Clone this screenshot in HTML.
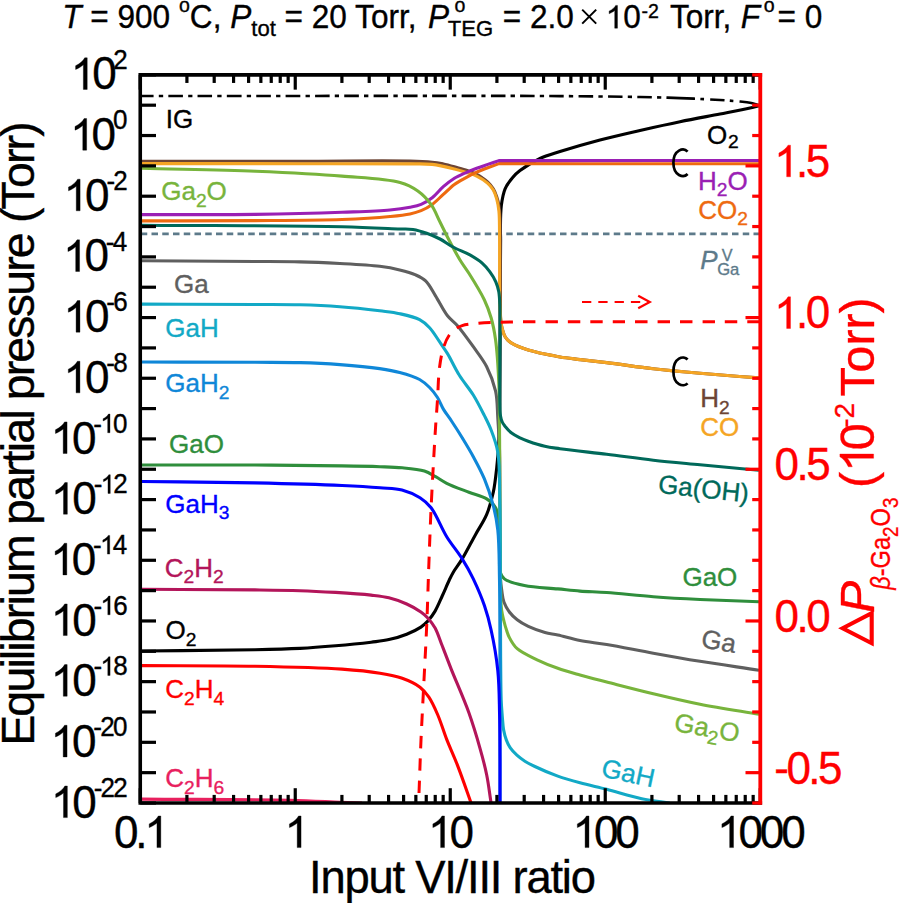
<!DOCTYPE html>
<html><head><meta charset="utf-8"><style>
html,body{margin:0;padding:0;background:#fff;}
svg{display:block;font-family:"Liberation Sans", sans-serif;}
svg text{stroke-width:0.35px;}
</style></head><body>
<svg width="900" height="903" viewBox="0 0 900 903">
<rect width="900" height="903" fill="#fff"></rect>
<defs><clipPath id="pc"><rect x="141" y="76" width="618" height="726"></rect></clipPath></defs>
<g clip-path="url(#pc)">
<path d="M142.0,96.0 C261.3,96.0 430.7,95.8 500.0,95.9 C528.4,95.9 538.6,95.9 560.0,96.1 C584.8,96.3 617.9,96.6 640.0,97.0 C655.6,97.3 666.7,97.6 680.0,98.1 C693.3,98.6 709.0,99.3 720.0,100.0 C727.8,100.5 734.5,101.0 740.0,101.5 C743.9,101.9 746.8,102.1 750.0,102.7 C753.1,103.3 756.0,104.4 759.0,105.2" fill="none" stroke="#000" stroke-width="2.6" stroke-linejoin="round" stroke-dasharray="14.6 5.2 4.3 5.2 14.6 5.2 4.3 5.2 14.6 5.2 4.3 5.2 14.6 5.2 4.3 5.2 14.6 5.2 4.3 5.2 14.6 5.2 4.3 5.2 14.6 5.2 4.3 5.2 14.6 5.2 4.3 5.2 14.6 5.2 4.3 5.2 14.6 5.2 4.3 5.2 14.6 5.2 4.3 5.2 14.6 5.2 4.3 5.2 14.6 5.2 4.3 5.2 14.6 5.2 4.3 5.2 14.6 5.2 4.3 5.2 14.6 5.2 4.3 5.2 14.6 5.2 4.3 5.2 14.6 5.2 4.3 5.2 28.6 5.3 3.6 6.2 14.2 5.4 3.5 6.3 40 5" stroke-dashoffset="2.9"></path>
<line x1="142" y1="233.8" x2="759" y2="233.8" stroke="#5d7a8a" stroke-width="2.8" stroke-dasharray="6.5 4.25" stroke-dashoffset="1.25"></line>
<path d="M142.0,651.0 C179.7,650.6 225.9,650.4 255.0,649.8 C273.4,649.4 285.9,649.1 300.0,648.4 C312.6,647.7 323.7,646.8 335.6,645.8 C347.4,644.8 361.3,643.4 371.1,642.2 C378.1,641.3 383.0,640.9 388.9,639.6 C394.9,638.3 401.2,636.4 406.7,634.2 C411.8,632.2 417.1,629.6 420.9,627.1 C423.8,625.1 425.8,623.3 428.0,620.9 C430.5,618.1 432.9,614.8 435.1,611.1 C437.7,606.7 439.9,601.1 442.2,596.0 C444.6,590.8 447.2,584.4 449.3,580.0 C450.8,576.9 451.6,575.1 453.3,572.2 C455.6,568.3 459.1,564.1 462.2,558.9 C466.4,552.0 471.3,542.1 475.6,534.4 C479.5,527.4 483.8,521.4 486.7,514.4 C489.7,507.3 491.6,499.8 493.3,492.2 C495.0,484.3 495.8,476.1 496.7,467.8 C497.7,459.1 498.4,450.9 498.9,441.0 C499.5,428.8 499.6,416.7 499.8,400.0 C500.1,374.0 500.0,329.1 500.2,300.0 C500.3,277.5 500.7,251.6 500.6,240.0 C500.6,235.3 500.4,234.1 500.4,230.0 C500.5,223.7 500.4,213.1 501.3,205.8 C502.1,199.6 503.0,193.7 505.1,188.8 C507.0,184.4 510.0,180.6 512.7,177.4 C515.0,174.7 516.8,172.9 520.0,170.5 C524.9,166.8 533.2,161.7 540.0,158.5 C546.5,155.5 552.2,154.1 560.0,151.6 C571.0,148.1 586.6,143.5 600.0,140.0 C613.3,136.5 626.7,133.5 640.0,130.4 C653.3,127.4 666.7,124.4 680.0,121.7 C693.3,119.0 707.6,116.4 720.0,114.0 C730.7,111.9 742.9,109.6 750.0,108.0 C753.9,107.1 756.0,106.5 759.0,105.8" fill="none" stroke="#000" stroke-width="3.1" stroke-linejoin="round"></path>
<path d="M142.0,799.1 C191.3,799.5 253.7,799.3 290.0,800.2 C311.1,800.7 326.7,801.7 340.0,802.2 C348.8,802.5 354.7,802.7 362.0,803.0" fill="none" stroke="#e8205e" stroke-width="3.1" stroke-linejoin="round"></path>
<path d="M142.0,665.6 C179.7,665.8 219.8,665.5 255.0,666.2 C285.9,666.8 318.9,667.5 342.0,669.1 C357.3,670.2 369.1,671.4 380.0,673.2 C388.4,674.6 395.3,675.8 402.2,678.3 C408.6,680.6 415.3,683.6 420.0,687.2 C423.8,690.1 426.2,693.2 428.9,697.2 C432.2,702.1 435.0,708.5 437.8,715.0 C441.0,722.4 443.5,731.1 446.7,739.4 C450.1,748.1 454.1,756.4 457.8,766.1 C462.2,777.4 466.7,790.7 471.1,803.0" fill="none" stroke="#ff0000" stroke-width="3.1" stroke-linejoin="round"></path>
<path d="M142.0,589.3 C179.7,589.5 225.9,589.6 255.0,589.9 C273.4,590.1 285.9,590.2 300.0,590.7 C312.6,591.1 323.7,591.7 335.6,592.4 C347.4,593.1 361.3,594.0 371.1,595.1 C378.1,595.9 383.0,596.3 388.9,597.8 C394.9,599.3 401.2,601.5 406.7,604.0 C411.8,606.3 417.1,609.3 420.9,612.0 C423.8,614.0 425.8,615.8 428.0,618.2 C430.5,621.0 432.9,624.1 435.1,628.0 C437.8,632.9 439.7,639.5 442.2,645.8 C445.0,653.0 447.6,660.0 451.1,668.9 C456.0,681.2 463.9,698.8 468.9,712.8 C473.3,725.2 476.9,737.3 480.0,748.3 C482.7,757.8 484.9,766.0 486.7,775.0 C488.6,784.2 489.6,793.7 491.1,803.0" fill="none" stroke="#b3155a" stroke-width="3.1" stroke-linejoin="round"></path>
<path d="M142.0,465.0 C179.7,465.0 219.8,464.8 255.0,465.0 C285.9,465.2 318.9,465.5 342.0,465.9 C357.3,466.1 369.0,466.3 380.0,466.7 C388.4,467.0 394.8,467.1 402.2,467.8 C409.6,468.5 418.4,469.2 424.4,471.1 C428.9,472.5 431.9,474.7 435.6,476.7 C439.3,478.7 442.3,481.1 446.7,483.3 C452.7,486.3 461.9,489.5 468.9,492.2 C475.1,494.6 482.0,495.9 486.7,498.9 C490.5,501.4 493.6,504.1 495.6,507.8 C497.9,512.0 498.2,517.4 498.9,523.3 C499.8,531.0 499.6,541.5 499.8,550.0 C500.0,557.7 498.7,567.1 500.2,572.2 C501.1,575.2 502.0,577.0 504.4,578.9 C508.3,582.0 516.8,584.0 524.4,585.6 C534.0,587.7 547.8,587.9 557.8,588.9 C566.0,589.7 572.3,590.5 580.0,591.1 C588.5,591.7 596.6,591.8 606.7,592.5 C620.1,593.5 637.7,595.5 653.3,596.7 C668.8,597.9 683.5,598.7 700.0,599.5 C718.5,600.4 739.3,601.0 759.0,601.8" fill="none" stroke="#2f8e3c" stroke-width="3.1" stroke-linejoin="round"></path>
<path d="M142.0,260.8 C179.7,261.0 225.9,261.3 255.0,261.5 C273.4,261.6 285.5,261.5 300.0,261.9 C313.7,262.2 326.6,262.8 339.9,263.5 C353.2,264.2 368.7,264.9 379.7,266.3 C387.5,267.3 393.5,268.4 399.7,269.9 C405.4,271.3 411.0,272.8 415.6,274.9 C419.4,276.6 422.6,278.0 425.6,280.9 C429.4,284.5 432.1,290.4 435.5,295.8 C439.4,301.9 443.3,310.4 447.5,315.7 C450.7,319.8 453.9,321.6 457.5,325.7 C462.3,331.3 468.3,339.7 473.3,346.7 C478.0,353.4 483.0,359.5 486.7,366.7 C490.5,374.2 493.7,382.7 495.6,391.1 C497.5,399.7 497.2,408.5 497.8,417.8 C498.5,428.0 499.1,437.2 499.5,450.0 C500.1,468.9 499.8,497.6 500.0,520.0 C500.2,540.8 499.9,568.4 500.6,580.0 C500.9,584.7 501.2,586.5 501.7,590.0 C502.3,593.9 502.6,598.4 503.9,602.1 C505.2,605.7 507.2,609.0 509.4,612.0 C511.6,614.9 514.2,617.5 517.2,619.8 C520.4,622.3 524.1,624.4 528.3,626.4 C533.2,628.7 539.7,631.0 545.0,632.5 C549.5,633.8 553.0,633.9 557.8,635.0 C564.2,636.4 572.2,639.1 580.0,640.6 C588.4,642.3 596.6,642.8 606.7,644.5 C620.1,646.7 637.7,650.4 653.3,653.2 C668.8,656.0 683.5,658.6 700.0,661.3 C718.5,664.3 739.3,667.2 759.0,670.2" fill="none" stroke="#5f5f5f" stroke-width="3.1" stroke-linejoin="round"></path>
<path d="M142.0,161.2 C194.7,161.2 252.1,161.2 300.0,161.2 C340.0,161.2 387.3,160.5 410.0,161.1 C420.2,161.3 426.1,161.6 432.2,162.2 C436.5,162.6 439.6,163.2 443.3,163.9 C447.0,164.7 450.7,165.7 454.4,166.7 C458.1,167.7 461.9,168.7 465.6,170.0 C469.3,171.3 473.7,172.9 476.7,174.4 C478.9,175.5 480.4,176.5 482.2,177.8 C484.1,179.1 486.0,180.5 487.8,182.2 C489.8,184.1 491.8,186.5 493.3,188.9 C494.8,191.3 495.8,194.0 496.7,196.7 C497.7,199.5 498.4,202.4 498.9,205.6 C499.5,209.1 499.8,212.3 500.0,216.7 C500.4,223.0 500.2,230.4 500.3,240.0 C500.4,255.4 500.3,285.8 500.4,300.0 C500.4,307.8 500.3,313.2 500.6,318.0 C500.8,321.2 501.1,323.5 501.6,326.0 C502.0,328.2 502.6,330.1 503.2,332.0 C503.7,333.7 504.2,335.2 505.0,336.6 C505.8,338.0 506.9,339.3 508.0,340.4 C509.1,341.5 510.1,342.3 511.6,343.2 C513.6,344.4 516.4,345.7 519.0,346.8 C521.9,348.0 524.7,348.9 528.2,349.9 C532.9,351.3 539.4,352.8 544.8,354.0 C550.0,355.1 554.6,356.1 560.0,357.0 C566.2,358.0 572.8,358.7 580.0,359.6 C588.3,360.6 596.6,361.4 606.7,362.6 C620.1,364.2 637.7,367.0 653.3,368.8 C668.8,370.6 683.5,371.9 700.0,373.3 C718.5,374.9 739.3,376.4 759.0,377.9" fill="none" stroke="#6d4535" stroke-width="3.1" stroke-linejoin="round"></path>
<path d="M142.0,163.6 C194.7,163.6 252.1,163.6 300.0,163.7 C340.0,163.7 387.3,163.6 410.0,163.9 C420.2,164.0 424.8,163.6 432.2,164.4 C439.6,165.2 448.3,167.4 454.4,168.9 C458.8,170.0 461.9,171.0 465.6,172.2 C469.3,173.4 473.1,174.3 476.7,176.1 C480.5,178.0 484.9,180.7 487.8,183.3 C490.2,185.4 491.8,187.5 493.3,190.0 C494.8,192.6 495.8,195.7 496.7,198.9 C497.7,202.6 498.4,206.6 498.9,211.1 C499.5,216.7 499.4,221.7 499.5,230.0 C499.8,246.0 499.4,284.3 499.8,300.0 C500.0,308.0 500.2,313.2 500.6,318.0 C500.9,321.2 501.1,323.5 501.6,326.0 C502.0,328.2 502.6,330.1 503.2,332.0 C503.7,333.7 504.2,335.2 505.0,336.6 C505.8,338.0 506.9,339.3 508.0,340.4 C509.1,341.5 510.1,342.3 511.6,343.2 C513.6,344.4 516.4,345.7 519.0,346.8 C521.9,348.0 524.7,348.9 528.2,349.9 C532.9,351.3 539.4,352.8 544.8,354.0 C550.0,355.1 554.6,356.1 560.0,357.0 C566.2,358.0 572.8,358.7 580.0,359.6 C588.3,360.6 596.6,361.4 606.7,362.6 C620.1,364.2 637.7,367.0 653.3,368.8 C668.8,370.6 683.5,371.9 700.0,373.3 C718.5,374.9 739.3,376.4 759.0,377.9" fill="none" stroke="#f5a524" stroke-width="3.1" stroke-linejoin="round"></path>
<path d="M142.0,220.9 C179.7,220.8 219.8,220.9 255.0,220.6 C285.9,220.4 317.3,220.4 342.0,219.5 C360.4,218.8 377.5,217.7 390.0,216.5 C398.1,215.7 404.3,215.1 410.0,213.9 C414.3,213.0 417.5,212.1 421.1,210.6 C424.9,209.0 428.6,207.0 432.2,204.4 C436.1,201.6 439.6,197.7 443.3,194.4 C447.0,191.1 450.5,187.2 454.4,184.4 C458.0,181.8 461.8,179.9 465.6,177.8 C469.3,175.8 473.0,173.9 476.7,172.2 C480.4,170.6 484.1,169.2 487.8,167.8 C491.5,166.4 495.2,165.0 498.9,163.6 L498.9,163.6 C585.6,163.7 672.3,163.7 759.0,163.8" fill="none" stroke="#ee6a10" stroke-width="3.1" stroke-linejoin="round"></path>
<path d="M142.0,214.6 C179.7,214.5 219.8,214.9 255.0,214.4 C285.9,214.0 317.3,213.2 342.0,212.3 C360.4,211.6 377.5,211.2 390.0,210.0 C398.1,209.2 404.3,208.3 410.0,207.2 C414.3,206.4 417.5,205.9 421.1,204.4 C424.9,202.8 428.7,200.5 432.2,197.8 C436.1,194.8 439.5,190.0 443.3,186.7 C446.9,183.6 450.6,180.7 454.4,178.3 C458.0,176.1 461.8,174.5 465.6,172.8 C469.3,171.2 473.0,169.7 476.7,168.3 C480.4,166.9 484.1,165.7 487.8,164.4 C491.5,163.1 495.2,161.9 498.9,160.6 L498.9,160.6 C585.6,160.6 672.3,160.5 759.0,160.5" fill="none" stroke="#9a1fb4" stroke-width="3.1" stroke-linejoin="round"></path>
<path d="M142.0,168.3 C179.9,169.3 220.3,169.8 255.6,171.2 C286.4,172.5 316.1,173.9 342.0,176.1 C363.3,177.9 386.4,178.6 400.0,182.5 C407.9,184.7 412.6,187.3 417.8,191.0 C422.9,194.6 427.3,199.3 431.0,204.4 C434.8,209.6 437.0,216.1 440.0,222.0 C443.0,228.0 445.8,233.9 449.0,240.0 C452.4,246.5 456.4,254.1 460.0,260.0 C463.0,265.0 465.6,268.0 468.9,273.3 C473.5,280.6 480.5,291.9 484.4,300.0 C487.4,306.4 489.3,311.5 491.1,317.8 C493.1,324.7 494.4,331.3 495.6,340.0 C497.3,352.2 498.2,368.8 498.9,384.4 C499.7,401.9 499.4,417.9 499.6,440.0 C499.9,472.4 499.8,529.4 500.2,560.0 C500.5,578.9 500.5,597.0 501.2,606.0 C501.5,609.8 501.8,611.4 502.3,614.0 C502.7,616.4 503.3,618.5 503.9,621.0 C504.6,623.8 505.5,627.1 506.5,630.0 C507.4,632.7 508.0,634.9 509.4,637.6 C511.2,641.1 513.5,645.4 517.2,648.7 C522.0,653.0 530.3,656.5 537.1,659.8 C543.8,663.0 550.7,665.8 557.8,668.3 C565.0,670.9 572.2,672.8 580.0,675.0 C588.5,677.4 596.6,679.4 606.7,682.0 C620.1,685.4 637.7,690.0 653.3,693.7 C668.8,697.4 683.5,700.9 700.0,704.2 C718.5,707.8 739.3,710.9 759.0,714.2" fill="none" stroke="#78b43c" stroke-width="3.1" stroke-linejoin="round"></path>
<path d="M142.0,225.2 C208.7,225.7 295.3,225.6 342.0,226.7 C367.1,227.3 387.6,228.5 400.0,229.0 C405.9,229.2 408.6,228.8 413.0,229.5 C417.5,230.2 422.2,231.7 426.7,233.3 C431.2,234.9 435.7,236.8 440.0,239.0 C444.4,241.3 448.3,244.5 453.0,247.0 C458.2,249.8 464.8,252.1 469.9,254.9 C474.3,257.4 478.5,259.9 481.9,262.9 C485.0,265.6 487.6,268.7 489.9,271.9 C492.2,275.0 494.3,278.4 495.8,281.8 C497.2,285.0 498.1,288.2 498.8,291.8 C499.5,295.8 499.6,299.0 499.8,304.8 C500.3,316.8 499.9,342.5 499.9,360.0 C499.9,375.8 499.6,395.1 499.9,405.0 C500.0,409.9 500.0,413.0 500.5,416.0 C500.9,418.2 501.2,419.8 502.0,421.5 C502.7,423.2 503.7,424.6 505.0,426.3 C506.7,428.4 509.1,431.1 511.6,433.0 C514.1,434.9 517.2,436.4 520.0,437.8 C522.7,439.1 525.0,440.1 528.2,441.3 C532.7,442.9 539.3,445.1 544.8,446.3 C549.9,447.5 553.5,447.8 560.0,448.7 C571.3,450.3 591.1,452.4 606.7,454.3 C622.2,456.2 637.7,458.4 653.3,460.2 C668.8,461.9 683.5,463.2 700.0,464.8 C718.5,466.6 739.3,468.4 759.0,470.2" fill="none" stroke="#00695a" stroke-width="3.1" stroke-linejoin="round"></path>
<path d="M142.0,304.1 C179.7,304.2 225.9,304.4 255.0,304.5 C273.4,304.6 285.5,304.4 300.0,304.8 C313.7,305.2 326.6,305.8 339.9,306.8 C353.2,307.8 368.7,309.5 379.7,310.8 C387.5,311.8 393.1,312.2 399.7,313.7 C406.4,315.2 414.3,316.9 419.6,319.7 C423.8,321.9 426.5,324.4 429.6,327.7 C433.2,331.5 436.4,337.2 439.5,341.7 C442.3,345.8 444.7,349.0 447.5,353.6 C451.2,359.7 455.1,368.5 459.5,375.5 C463.8,382.3 469.1,388.3 473.3,395.0 C477.4,401.7 481.2,409.3 484.4,415.6 C487.0,420.8 489.0,424.6 491.1,430.0 C493.6,436.5 496.3,443.3 497.8,452.2 C500.0,465.0 499.3,481.2 499.8,500.0 C500.5,527.2 500.2,566.7 500.4,600.0 C500.6,633.3 500.5,680.7 501.2,700.0 C501.5,707.9 501.9,711.4 502.3,716.6 C502.7,721.3 502.9,725.8 503.6,729.9 C504.3,733.5 505.1,736.8 506.3,739.9 C507.4,742.8 508.6,745.4 510.3,747.9 C512.1,750.5 514.5,753.0 516.9,755.2 C519.3,757.4 522.0,759.4 524.9,761.2 C528.0,763.2 530.8,764.6 534.9,766.5 C540.9,769.4 550.2,773.4 557.8,776.1 C565.2,778.8 572.2,780.7 580.0,782.8 C588.5,785.1 597.2,786.9 606.7,789.3 C617.6,792.1 630.6,796.4 641.7,798.7 C651.5,800.8 660.4,801.6 669.7,803.0" fill="none" stroke="#12a9c6" stroke-width="3.1" stroke-linejoin="round"></path>
<path d="M142.0,362.0 C179.7,362.1 225.9,362.2 255.0,362.3 C273.4,362.4 285.5,362.2 300.0,362.6 C313.7,363.0 326.6,363.6 339.9,364.6 C353.2,365.6 368.7,367.0 379.7,368.6 C387.5,369.8 393.1,370.7 399.7,372.5 C406.4,374.3 414.3,376.6 419.6,379.5 C423.7,381.8 426.6,384.5 429.6,387.5 C432.6,390.5 435.2,393.9 437.5,397.5 C439.9,401.2 441.2,405.5 443.5,409.4 C445.9,413.4 448.7,416.7 451.5,421.0 C454.9,426.1 458.7,432.0 462.2,437.8 C465.9,443.9 469.7,450.1 473.3,456.7 C477.1,463.7 481.1,471.0 484.4,478.9 C487.9,487.3 491.0,496.8 493.3,505.6 C495.4,513.8 496.8,520.4 497.8,530.0 C499.3,543.7 499.1,559.7 499.5,580.0 C500.1,611.4 499.9,661.5 500.0,700.0 C500.1,735.6 500.0,768.7 500.0,803.0" fill="none" stroke="#0f87d8" stroke-width="3.1" stroke-linejoin="round"></path>
<path d="M142.0,481.5 C179.7,482.0 219.8,482.2 255.0,482.9 C285.9,483.6 318.9,484.5 342.0,485.5 C357.3,486.2 369.1,486.9 380.0,487.8 C388.3,488.5 395.2,488.2 402.0,490.0 C408.4,491.7 414.9,494.5 420.0,497.8 C424.4,500.6 427.5,503.2 431.1,507.8 C436.5,514.6 441.2,527.8 446.7,536.7 C451.7,544.7 457.6,551.6 462.2,558.9 C466.4,565.6 469.8,571.6 473.3,578.9 C477.2,587.1 481.4,596.8 484.4,605.6 C487.2,613.8 489.1,620.8 491.1,630.0 C493.7,641.8 496.4,656.7 497.8,670.6 C499.3,685.0 499.2,700.1 499.6,715.0 C500.0,729.9 499.9,745.2 500.0,760.0 C500.1,774.5 500.0,788.7 500.0,803.0" fill="none" stroke="#0000ff" stroke-width="3.1" stroke-linejoin="round"></path>
<path d="M419.0,793.0 C419.7,775.3 420.2,758.2 421.0,740.0 C421.9,720.6 423.0,699.5 424.0,680.0 C424.9,661.4 425.9,644.4 426.7,625.6 C427.6,605.5 428.1,583.5 428.9,563.3 C429.6,544.3 430.2,527.6 431.1,507.8 C432.2,485.0 433.9,454.4 435.1,434.4 C435.9,420.6 436.8,410.9 437.5,399.5 C438.2,388.6 438.3,377.0 439.5,367.6 C440.5,360.1 441.6,353.3 443.5,347.6 C445.0,343.0 446.7,338.8 449.0,335.5 C450.9,332.8 453.3,330.6 455.6,328.9 C457.7,327.4 459.4,326.5 462.2,325.6 C466.2,324.3 472.1,323.9 477.8,323.3 C484.5,322.6 488.5,322.5 500.0,322.2 C539.1,321.2 672.7,321.9 759.0,321.8" fill="none" stroke="#ff0000" stroke-width="3.0" stroke-linejoin="round" stroke-dasharray="12.4 10"></path>
</g>
<line x1="582" y1="302" x2="648" y2="302" stroke="#ff0000" stroke-width="2.2" stroke-dasharray="9.3 7"></line>
<path d="M638.2,295.7 L649.8,302 L638.2,308.3" fill="none" stroke="#ff0000" stroke-width="2.2"></path>
<line x1="140.25" y1="803.00" x2="156" y2="803.00" stroke="#000" stroke-width="3.2"></line>
<line x1="140.25" y1="772.66" x2="156" y2="772.66" stroke="#000" stroke-width="3.2"></line>
<line x1="140.25" y1="742.32" x2="156" y2="742.32" stroke="#000" stroke-width="3.2"></line>
<line x1="140.25" y1="711.98" x2="156" y2="711.98" stroke="#000" stroke-width="3.2"></line>
<line x1="140.25" y1="681.64" x2="156" y2="681.64" stroke="#000" stroke-width="3.2"></line>
<line x1="140.25" y1="651.30" x2="156" y2="651.30" stroke="#000" stroke-width="3.2"></line>
<line x1="140.25" y1="620.96" x2="156" y2="620.96" stroke="#000" stroke-width="3.2"></line>
<line x1="140.25" y1="590.62" x2="156" y2="590.62" stroke="#000" stroke-width="3.2"></line>
<line x1="140.25" y1="560.28" x2="156" y2="560.28" stroke="#000" stroke-width="3.2"></line>
<line x1="140.25" y1="529.94" x2="156" y2="529.94" stroke="#000" stroke-width="3.2"></line>
<line x1="140.25" y1="499.60" x2="156" y2="499.60" stroke="#000" stroke-width="3.2"></line>
<line x1="140.25" y1="469.26" x2="156" y2="469.26" stroke="#000" stroke-width="3.2"></line>
<line x1="140.25" y1="438.92" x2="156" y2="438.92" stroke="#000" stroke-width="3.2"></line>
<line x1="140.25" y1="408.59" x2="156" y2="408.59" stroke="#000" stroke-width="3.2"></line>
<line x1="140.25" y1="378.25" x2="156" y2="378.25" stroke="#000" stroke-width="3.2"></line>
<line x1="140.25" y1="347.91" x2="156" y2="347.91" stroke="#000" stroke-width="3.2"></line>
<line x1="140.25" y1="317.57" x2="156" y2="317.57" stroke="#000" stroke-width="3.2"></line>
<line x1="140.25" y1="287.23" x2="156" y2="287.23" stroke="#000" stroke-width="3.2"></line>
<line x1="140.25" y1="256.89" x2="156" y2="256.89" stroke="#000" stroke-width="3.2"></line>
<line x1="140.25" y1="226.55" x2="156" y2="226.55" stroke="#000" stroke-width="3.2"></line>
<line x1="140.25" y1="196.21" x2="156" y2="196.21" stroke="#000" stroke-width="3.2"></line>
<line x1="140.25" y1="165.87" x2="156" y2="165.87" stroke="#000" stroke-width="3.2"></line>
<line x1="140.25" y1="135.53" x2="156" y2="135.53" stroke="#000" stroke-width="3.2"></line>
<line x1="140.25" y1="105.19" x2="156" y2="105.19" stroke="#000" stroke-width="3.2"></line>
<line x1="140.25" y1="74.85" x2="156" y2="74.85" stroke="#000" stroke-width="3.2"></line>
<line x1="140.25" y1="74.85" x2="140.25" y2="89.65" stroke="#000" stroke-width="3.2"></line>
<line x1="140.25" y1="803.0" x2="140.25" y2="788.20" stroke="#000" stroke-width="3.2"></line>
<line x1="186.91" y1="74.85" x2="186.91" y2="82.95" stroke="#000" stroke-width="3.2"></line>
<line x1="186.91" y1="803.0" x2="186.91" y2="794.90" stroke="#000" stroke-width="3.2"></line>
<line x1="214.20" y1="74.85" x2="214.20" y2="82.95" stroke="#000" stroke-width="3.2"></line>
<line x1="214.20" y1="803.0" x2="214.20" y2="794.90" stroke="#000" stroke-width="3.2"></line>
<line x1="233.57" y1="74.85" x2="233.57" y2="82.95" stroke="#000" stroke-width="3.2"></line>
<line x1="233.57" y1="803.0" x2="233.57" y2="794.90" stroke="#000" stroke-width="3.2"></line>
<line x1="248.59" y1="74.85" x2="248.59" y2="82.95" stroke="#000" stroke-width="3.2"></line>
<line x1="248.59" y1="803.0" x2="248.59" y2="794.90" stroke="#000" stroke-width="3.2"></line>
<line x1="260.86" y1="74.85" x2="260.86" y2="82.95" stroke="#000" stroke-width="3.2"></line>
<line x1="260.86" y1="803.0" x2="260.86" y2="794.90" stroke="#000" stroke-width="3.2"></line>
<line x1="271.24" y1="74.85" x2="271.24" y2="82.95" stroke="#000" stroke-width="3.2"></line>
<line x1="271.24" y1="803.0" x2="271.24" y2="794.90" stroke="#000" stroke-width="3.2"></line>
<line x1="280.23" y1="74.85" x2="280.23" y2="82.95" stroke="#000" stroke-width="3.2"></line>
<line x1="280.23" y1="803.0" x2="280.23" y2="794.90" stroke="#000" stroke-width="3.2"></line>
<line x1="288.16" y1="74.85" x2="288.16" y2="82.95" stroke="#000" stroke-width="3.2"></line>
<line x1="288.16" y1="803.0" x2="288.16" y2="794.90" stroke="#000" stroke-width="3.2"></line>
<line x1="295.25" y1="74.85" x2="295.25" y2="89.65" stroke="#000" stroke-width="3.2"></line>
<line x1="295.25" y1="803.0" x2="295.25" y2="788.20" stroke="#000" stroke-width="3.2"></line>
<line x1="341.91" y1="74.85" x2="341.91" y2="82.95" stroke="#000" stroke-width="3.2"></line>
<line x1="341.91" y1="803.0" x2="341.91" y2="794.90" stroke="#000" stroke-width="3.2"></line>
<line x1="369.20" y1="74.85" x2="369.20" y2="82.95" stroke="#000" stroke-width="3.2"></line>
<line x1="369.20" y1="803.0" x2="369.20" y2="794.90" stroke="#000" stroke-width="3.2"></line>
<line x1="388.57" y1="74.85" x2="388.57" y2="82.95" stroke="#000" stroke-width="3.2"></line>
<line x1="388.57" y1="803.0" x2="388.57" y2="794.90" stroke="#000" stroke-width="3.2"></line>
<line x1="403.59" y1="74.85" x2="403.59" y2="82.95" stroke="#000" stroke-width="3.2"></line>
<line x1="403.59" y1="803.0" x2="403.59" y2="794.90" stroke="#000" stroke-width="3.2"></line>
<line x1="415.86" y1="74.85" x2="415.86" y2="82.95" stroke="#000" stroke-width="3.2"></line>
<line x1="415.86" y1="803.0" x2="415.86" y2="794.90" stroke="#000" stroke-width="3.2"></line>
<line x1="426.24" y1="74.85" x2="426.24" y2="82.95" stroke="#000" stroke-width="3.2"></line>
<line x1="426.24" y1="803.0" x2="426.24" y2="794.90" stroke="#000" stroke-width="3.2"></line>
<line x1="435.23" y1="74.85" x2="435.23" y2="82.95" stroke="#000" stroke-width="3.2"></line>
<line x1="435.23" y1="803.0" x2="435.23" y2="794.90" stroke="#000" stroke-width="3.2"></line>
<line x1="443.16" y1="74.85" x2="443.16" y2="82.95" stroke="#000" stroke-width="3.2"></line>
<line x1="443.16" y1="803.0" x2="443.16" y2="794.90" stroke="#000" stroke-width="3.2"></line>
<line x1="450.25" y1="74.85" x2="450.25" y2="89.65" stroke="#000" stroke-width="3.2"></line>
<line x1="450.25" y1="803.0" x2="450.25" y2="788.20" stroke="#000" stroke-width="3.2"></line>
<line x1="496.91" y1="74.85" x2="496.91" y2="82.95" stroke="#000" stroke-width="3.2"></line>
<line x1="496.91" y1="803.0" x2="496.91" y2="794.90" stroke="#000" stroke-width="3.2"></line>
<line x1="524.20" y1="74.85" x2="524.20" y2="82.95" stroke="#000" stroke-width="3.2"></line>
<line x1="524.20" y1="803.0" x2="524.20" y2="794.90" stroke="#000" stroke-width="3.2"></line>
<line x1="543.57" y1="74.85" x2="543.57" y2="82.95" stroke="#000" stroke-width="3.2"></line>
<line x1="543.57" y1="803.0" x2="543.57" y2="794.90" stroke="#000" stroke-width="3.2"></line>
<line x1="558.59" y1="74.85" x2="558.59" y2="82.95" stroke="#000" stroke-width="3.2"></line>
<line x1="558.59" y1="803.0" x2="558.59" y2="794.90" stroke="#000" stroke-width="3.2"></line>
<line x1="570.86" y1="74.85" x2="570.86" y2="82.95" stroke="#000" stroke-width="3.2"></line>
<line x1="570.86" y1="803.0" x2="570.86" y2="794.90" stroke="#000" stroke-width="3.2"></line>
<line x1="581.24" y1="74.85" x2="581.24" y2="82.95" stroke="#000" stroke-width="3.2"></line>
<line x1="581.24" y1="803.0" x2="581.24" y2="794.90" stroke="#000" stroke-width="3.2"></line>
<line x1="590.23" y1="74.85" x2="590.23" y2="82.95" stroke="#000" stroke-width="3.2"></line>
<line x1="590.23" y1="803.0" x2="590.23" y2="794.90" stroke="#000" stroke-width="3.2"></line>
<line x1="598.16" y1="74.85" x2="598.16" y2="82.95" stroke="#000" stroke-width="3.2"></line>
<line x1="598.16" y1="803.0" x2="598.16" y2="794.90" stroke="#000" stroke-width="3.2"></line>
<line x1="605.25" y1="74.85" x2="605.25" y2="89.65" stroke="#000" stroke-width="3.2"></line>
<line x1="605.25" y1="803.0" x2="605.25" y2="788.20" stroke="#000" stroke-width="3.2"></line>
<line x1="651.91" y1="74.85" x2="651.91" y2="82.95" stroke="#000" stroke-width="3.2"></line>
<line x1="651.91" y1="803.0" x2="651.91" y2="794.90" stroke="#000" stroke-width="3.2"></line>
<line x1="679.20" y1="74.85" x2="679.20" y2="82.95" stroke="#000" stroke-width="3.2"></line>
<line x1="679.20" y1="803.0" x2="679.20" y2="794.90" stroke="#000" stroke-width="3.2"></line>
<line x1="698.57" y1="74.85" x2="698.57" y2="82.95" stroke="#000" stroke-width="3.2"></line>
<line x1="698.57" y1="803.0" x2="698.57" y2="794.90" stroke="#000" stroke-width="3.2"></line>
<line x1="713.59" y1="74.85" x2="713.59" y2="82.95" stroke="#000" stroke-width="3.2"></line>
<line x1="713.59" y1="803.0" x2="713.59" y2="794.90" stroke="#000" stroke-width="3.2"></line>
<line x1="725.86" y1="74.85" x2="725.86" y2="82.95" stroke="#000" stroke-width="3.2"></line>
<line x1="725.86" y1="803.0" x2="725.86" y2="794.90" stroke="#000" stroke-width="3.2"></line>
<line x1="736.24" y1="74.85" x2="736.24" y2="82.95" stroke="#000" stroke-width="3.2"></line>
<line x1="736.24" y1="803.0" x2="736.24" y2="794.90" stroke="#000" stroke-width="3.2"></line>
<line x1="745.23" y1="74.85" x2="745.23" y2="82.95" stroke="#000" stroke-width="3.2"></line>
<line x1="745.23" y1="803.0" x2="745.23" y2="794.90" stroke="#000" stroke-width="3.2"></line>
<line x1="753.16" y1="74.85" x2="753.16" y2="82.95" stroke="#000" stroke-width="3.2"></line>
<line x1="753.16" y1="803.0" x2="753.16" y2="794.90" stroke="#000" stroke-width="3.2"></line>
<line x1="760.25" y1="74.85" x2="760.25" y2="89.65" stroke="#000" stroke-width="3.2"></line>
<line x1="760.25" y1="803.0" x2="760.25" y2="788.20" stroke="#000" stroke-width="3.2"></line>
<path d="M760.3,74.85 L140.25,74.85 L140.25,803.0 L760.3,803.0" fill="none" stroke="#000" stroke-width="3.6" stroke-linecap="square"></path>
<line x1="760.3" y1="73.05" x2="760.3" y2="804.8" stroke="#ff0000" stroke-width="3.8"></line>
<line x1="760.3" y1="803.00" x2="752.20" y2="803.00" stroke="#ff0000" stroke-width="3.2"></line>
<line x1="760.3" y1="772.66" x2="745.50" y2="772.66" stroke="#ff0000" stroke-width="3.2"></line>
<line x1="760.3" y1="742.32" x2="752.20" y2="742.32" stroke="#ff0000" stroke-width="3.2"></line>
<line x1="760.3" y1="711.98" x2="752.20" y2="711.98" stroke="#ff0000" stroke-width="3.2"></line>
<line x1="760.3" y1="681.64" x2="752.20" y2="681.64" stroke="#ff0000" stroke-width="3.2"></line>
<line x1="760.3" y1="651.30" x2="752.20" y2="651.30" stroke="#ff0000" stroke-width="3.2"></line>
<line x1="760.3" y1="620.96" x2="745.50" y2="620.96" stroke="#ff0000" stroke-width="3.2"></line>
<line x1="760.3" y1="590.62" x2="752.20" y2="590.62" stroke="#ff0000" stroke-width="3.2"></line>
<line x1="760.3" y1="560.28" x2="752.20" y2="560.28" stroke="#ff0000" stroke-width="3.2"></line>
<line x1="760.3" y1="529.94" x2="752.20" y2="529.94" stroke="#ff0000" stroke-width="3.2"></line>
<line x1="760.3" y1="499.60" x2="752.20" y2="499.60" stroke="#ff0000" stroke-width="3.2"></line>
<line x1="760.3" y1="469.26" x2="745.50" y2="469.26" stroke="#ff0000" stroke-width="3.2"></line>
<line x1="760.3" y1="438.92" x2="752.20" y2="438.92" stroke="#ff0000" stroke-width="3.2"></line>
<line x1="760.3" y1="408.59" x2="752.20" y2="408.59" stroke="#ff0000" stroke-width="3.2"></line>
<line x1="760.3" y1="378.25" x2="752.20" y2="378.25" stroke="#ff0000" stroke-width="3.2"></line>
<line x1="760.3" y1="347.91" x2="752.20" y2="347.91" stroke="#ff0000" stroke-width="3.2"></line>
<line x1="760.3" y1="317.57" x2="745.50" y2="317.57" stroke="#ff0000" stroke-width="3.2"></line>
<line x1="760.3" y1="287.23" x2="752.20" y2="287.23" stroke="#ff0000" stroke-width="3.2"></line>
<line x1="760.3" y1="256.89" x2="752.20" y2="256.89" stroke="#ff0000" stroke-width="3.2"></line>
<line x1="760.3" y1="226.55" x2="752.20" y2="226.55" stroke="#ff0000" stroke-width="3.2"></line>
<line x1="760.3" y1="196.21" x2="752.20" y2="196.21" stroke="#ff0000" stroke-width="3.2"></line>
<line x1="760.3" y1="165.87" x2="745.50" y2="165.87" stroke="#ff0000" stroke-width="3.2"></line>
<line x1="760.3" y1="135.53" x2="752.20" y2="135.53" stroke="#ff0000" stroke-width="3.2"></line>
<line x1="760.3" y1="105.19" x2="752.20" y2="105.19" stroke="#ff0000" stroke-width="3.2"></line>
<line x1="760.3" y1="74.85" x2="752.20" y2="74.85" stroke="#ff0000" stroke-width="3.2"></line>
<g transform="translate(113.35,68.65) scale(1,1.03)"><text font-size="26.0" letter-spacing="-1.7" fill="#000" stroke="#000">2</text></g>
<g transform="translate(70.83,89.45) scale(1,1.03)"><text font-size="44.0" letter-spacing="-3.1" fill="#000" stroke="#000"> 0</text><path d="M763,0 L583,0 L583,1147 Q518,1085 412,1023 Q306,961 222,930 L222,1104 Q373,1175 486,1276 Q599,1377 646,1472 L763,1472 Z" fill="rgb(0, 0, 0)" stroke="rgb(0, 0, 0)" stroke-width="0.35" vector-effect="non-scaling-stroke" transform="translate(0.00,0.00) scale(0.02148,-0.02086)"></path></g>
<g transform="translate(113.06,129.33) scale(1,1.03)"><text font-size="26.0" letter-spacing="-1.7" fill="#000" stroke="#000">0</text></g>
<g transform="translate(70.25,150.13) scale(1,1.03)"><text font-size="44.0" letter-spacing="-3.1" fill="#000" stroke="#000"> 0</text><path d="M763,0 L583,0 L583,1147 Q518,1085 412,1023 Q306,961 222,930 L222,1104 Q373,1175 486,1276 Q599,1377 646,1472 L763,1472 Z" fill="rgb(0, 0, 0)" stroke="rgb(0, 0, 0)" stroke-width="0.35" vector-effect="non-scaling-stroke" transform="translate(0.00,0.00) scale(0.02148,-0.02086)"></path></g>
<g transform="translate(106.39,190.01) scale(1,1.03)"><text font-size="26.0" letter-spacing="-1.7" fill="#000" stroke="#000">-2</text></g>
<g transform="translate(63.72,210.81) scale(1,1.03)"><text font-size="44.0" letter-spacing="-3.1" fill="#000" stroke="#000"> 0</text><path d="M763,0 L583,0 L583,1147 Q518,1085 412,1023 Q306,961 222,930 L222,1104 Q373,1175 486,1276 Q599,1377 646,1472 L763,1472 Z" fill="rgb(0, 0, 0)" stroke="rgb(0, 0, 0)" stroke-width="0.35" vector-effect="non-scaling-stroke" transform="translate(0.00,0.00) scale(0.02148,-0.02086)"></path></g>
<g transform="translate(105.84,250.69) scale(1,1.03)"><text font-size="26.0" letter-spacing="-1.7" fill="#000" stroke="#000">-4</text></g>
<g transform="translate(63.18,271.49) scale(1,1.03)"><text font-size="44.0" letter-spacing="-3.1" fill="#000" stroke="#000"> 0</text><path d="M763,0 L583,0 L583,1147 Q518,1085 412,1023 Q306,961 222,930 L222,1104 Q373,1175 486,1276 Q599,1377 646,1472 L763,1472 Z" fill="rgb(0, 0, 0)" stroke="rgb(0, 0, 0)" stroke-width="0.35" vector-effect="non-scaling-stroke" transform="translate(0.00,0.00) scale(0.02148,-0.02086)"></path></g>
<g transform="translate(106.22,311.37) scale(1,1.03)"><text font-size="26.0" letter-spacing="-1.7" fill="#000" stroke="#000">-6</text></g>
<g transform="translate(63.56,332.17) scale(1,1.03)"><text font-size="44.0" letter-spacing="-3.1" fill="#000" stroke="#000"> 0</text><path d="M763,0 L583,0 L583,1147 Q518,1085 412,1023 Q306,961 222,930 L222,1104 Q373,1175 486,1276 Q599,1377 646,1472 L763,1472 Z" fill="rgb(0, 0, 0)" stroke="rgb(0, 0, 0)" stroke-width="0.35" vector-effect="non-scaling-stroke" transform="translate(0.00,0.00) scale(0.02148,-0.02086)"></path></g>
<g transform="translate(106.21,372.05) scale(1,1.03)"><text font-size="26.0" letter-spacing="-1.7" fill="#000" stroke="#000">-8</text></g>
<g transform="translate(63.54,392.85) scale(1,1.03)"><text font-size="44.0" letter-spacing="-3.1" fill="#000" stroke="#000"> 0</text><path d="M763,0 L583,0 L583,1147 Q518,1085 412,1023 Q306,961 222,930 L222,1104 Q373,1175 486,1276 Q599,1377 646,1472 L763,1472 Z" fill="rgb(0, 0, 0)" stroke="rgb(0, 0, 0)" stroke-width="0.35" vector-effect="non-scaling-stroke" transform="translate(0.00,0.00) scale(0.02148,-0.02086)"></path></g>
<g transform="translate(93.34,432.72) scale(1,1.03)"><text font-size="26.0" letter-spacing="-1.7" fill="#000" stroke="#000">- 0</text><path d="M763,0 L583,0 L583,1147 Q518,1085 412,1023 Q306,961 222,930 L222,1104 Q373,1175 486,1276 Q599,1377 646,1472 L763,1472 Z" fill="rgb(0, 0, 0)" stroke="rgb(0, 0, 0)" stroke-width="0.35" vector-effect="non-scaling-stroke" transform="translate(6.94,0.00) scale(0.01270,-0.01233)"></path></g>
<g transform="translate(50.67,453.52) scale(1,1.03)"><text font-size="44.0" letter-spacing="-3.1" fill="#000" stroke="#000"> 0</text><path d="M763,0 L583,0 L583,1147 Q518,1085 412,1023 Q306,961 222,930 L222,1104 Q373,1175 486,1276 Q599,1377 646,1472 L763,1472 Z" fill="rgb(0, 0, 0)" stroke="rgb(0, 0, 0)" stroke-width="0.35" vector-effect="non-scaling-stroke" transform="translate(0.00,0.00) scale(0.02148,-0.02086)"></path></g>
<g transform="translate(93.63,493.40) scale(1,1.03)"><text font-size="26.0" letter-spacing="-1.7" fill="#000" stroke="#000">- 2</text><path d="M763,0 L583,0 L583,1147 Q518,1085 412,1023 Q306,961 222,930 L222,1104 Q373,1175 486,1276 Q599,1377 646,1472 L763,1472 Z" fill="rgb(0, 0, 0)" stroke="rgb(0, 0, 0)" stroke-width="0.35" vector-effect="non-scaling-stroke" transform="translate(6.94,0.00) scale(0.01270,-0.01233)"></path></g>
<g transform="translate(50.96,514.20) scale(1,1.03)"><text font-size="44.0" letter-spacing="-3.1" fill="#000" stroke="#000"> 0</text><path d="M763,0 L583,0 L583,1147 Q518,1085 412,1023 Q306,961 222,930 L222,1104 Q373,1175 486,1276 Q599,1377 646,1472 L763,1472 Z" fill="rgb(0, 0, 0)" stroke="rgb(0, 0, 0)" stroke-width="0.35" vector-effect="non-scaling-stroke" transform="translate(0.00,0.00) scale(0.02148,-0.02086)"></path></g>
<g transform="translate(93.08,554.08) scale(1,1.03)"><text font-size="26.0" letter-spacing="-1.7" fill="#000" stroke="#000">- 4</text><path d="M763,0 L583,0 L583,1147 Q518,1085 412,1023 Q306,961 222,930 L222,1104 Q373,1175 486,1276 Q599,1377 646,1472 L763,1472 Z" fill="rgb(0, 0, 0)" stroke="rgb(0, 0, 0)" stroke-width="0.35" vector-effect="non-scaling-stroke" transform="translate(6.94,0.00) scale(0.01270,-0.01233)"></path></g>
<g transform="translate(50.42,574.88) scale(1,1.03)"><text font-size="44.0" letter-spacing="-3.1" fill="#000" stroke="#000"> 0</text><path d="M763,0 L583,0 L583,1147 Q518,1085 412,1023 Q306,961 222,930 L222,1104 Q373,1175 486,1276 Q599,1377 646,1472 L763,1472 Z" fill="rgb(0, 0, 0)" stroke="rgb(0, 0, 0)" stroke-width="0.35" vector-effect="non-scaling-stroke" transform="translate(0.00,0.00) scale(0.02148,-0.02086)"></path></g>
<g transform="translate(93.46,614.76) scale(1,1.03)"><text font-size="26.0" letter-spacing="-1.7" fill="#000" stroke="#000">- 6</text><path d="M763,0 L583,0 L583,1147 Q518,1085 412,1023 Q306,961 222,930 L222,1104 Q373,1175 486,1276 Q599,1377 646,1472 L763,1472 Z" fill="rgb(0, 0, 0)" stroke="rgb(0, 0, 0)" stroke-width="0.35" vector-effect="non-scaling-stroke" transform="translate(6.94,0.00) scale(0.01270,-0.01233)"></path></g>
<g transform="translate(50.80,635.56) scale(1,1.03)"><text font-size="44.0" letter-spacing="-3.1" fill="#000" stroke="#000"> 0</text><path d="M763,0 L583,0 L583,1147 Q518,1085 412,1023 Q306,961 222,930 L222,1104 Q373,1175 486,1276 Q599,1377 646,1472 L763,1472 Z" fill="rgb(0, 0, 0)" stroke="rgb(0, 0, 0)" stroke-width="0.35" vector-effect="non-scaling-stroke" transform="translate(0.00,0.00) scale(0.02148,-0.02086)"></path></g>
<g transform="translate(93.45,675.44) scale(1,1.03)"><text font-size="26.0" letter-spacing="-1.7" fill="#000" stroke="#000">- 8</text><path d="M763,0 L583,0 L583,1147 Q518,1085 412,1023 Q306,961 222,930 L222,1104 Q373,1175 486,1276 Q599,1377 646,1472 L763,1472 Z" fill="rgb(0, 0, 0)" stroke="rgb(0, 0, 0)" stroke-width="0.35" vector-effect="non-scaling-stroke" transform="translate(6.94,0.00) scale(0.01270,-0.01233)"></path></g>
<g transform="translate(50.78,696.24) scale(1,1.03)"><text font-size="44.0" letter-spacing="-3.1" fill="#000" stroke="#000"> 0</text><path d="M763,0 L583,0 L583,1147 Q518,1085 412,1023 Q306,961 222,930 L222,1104 Q373,1175 486,1276 Q599,1377 646,1472 L763,1472 Z" fill="rgb(0, 0, 0)" stroke="rgb(0, 0, 0)" stroke-width="0.35" vector-effect="non-scaling-stroke" transform="translate(0.00,0.00) scale(0.02148,-0.02086)"></path></g>
<g transform="translate(93.34,736.12) scale(1,1.03)"><text font-size="26.0" letter-spacing="-1.7" fill="#000" stroke="#000">-20</text></g>
<g transform="translate(50.67,756.92) scale(1,1.03)"><text font-size="44.0" letter-spacing="-3.1" fill="#000" stroke="#000"> 0</text><path d="M763,0 L583,0 L583,1147 Q518,1085 412,1023 Q306,961 222,930 L222,1104 Q373,1175 486,1276 Q599,1377 646,1472 L763,1472 Z" fill="rgb(0, 0, 0)" stroke="rgb(0, 0, 0)" stroke-width="0.35" vector-effect="non-scaling-stroke" transform="translate(0.00,0.00) scale(0.02148,-0.02086)"></path></g>
<g transform="translate(93.63,796.80) scale(1,1.03)"><text font-size="26.0" letter-spacing="-1.7" fill="#000" stroke="#000">-22</text></g>
<g transform="translate(50.96,817.60) scale(1,1.03)"><text font-size="44.0" letter-spacing="-3.1" fill="#000" stroke="#000"> 0</text><path d="M763,0 L583,0 L583,1147 Q518,1085 412,1023 Q306,961 222,930 L222,1104 Q373,1175 486,1276 Q599,1377 646,1472 L763,1472 Z" fill="rgb(0, 0, 0)" stroke="rgb(0, 0, 0)" stroke-width="0.35" vector-effect="non-scaling-stroke" transform="translate(0.00,0.00) scale(0.02148,-0.02086)"></path></g>
<g transform="translate(113.95,847.60) scale(1,1.03)"><text font-size="44.0" letter-spacing="-3.1" fill="#000" stroke="#000">0. </text><path d="M763,0 L583,0 L583,1147 Q518,1085 412,1023 Q306,961 222,930 L222,1104 Q373,1175 486,1276 Q599,1377 646,1472 L763,1472 Z" fill="rgb(0, 0, 0)" stroke="rgb(0, 0, 0)" stroke-width="0.35" vector-effect="non-scaling-stroke" transform="translate(30.48,0.00) scale(0.02148,-0.02086)"></path></g>
<g transform="translate(284.67,847.60) scale(1,1.03)"><text font-size="44.0" letter-spacing="-3.1" fill="#000" stroke="#000"> </text><path d="M763,0 L583,0 L583,1147 Q518,1085 412,1023 Q306,961 222,930 L222,1104 Q373,1175 486,1276 Q599,1377 646,1472 L763,1472 Z" fill="rgb(0, 0, 0)" stroke="rgb(0, 0, 0)" stroke-width="0.35" vector-effect="non-scaling-stroke" transform="translate(0.00,0.00) scale(0.02148,-0.02086)"></path></g>
<g transform="translate(428.10,847.60) scale(1,1.03)"><text font-size="44.0" letter-spacing="-3.1" fill="#000" stroke="#000"> 0</text><path d="M763,0 L583,0 L583,1147 Q518,1085 412,1023 Q306,961 222,930 L222,1104 Q373,1175 486,1276 Q599,1377 646,1472 L763,1472 Z" fill="rgb(0, 0, 0)" stroke="rgb(0, 0, 0)" stroke-width="0.35" vector-effect="non-scaling-stroke" transform="translate(0.00,0.00) scale(0.02148,-0.02086)"></path></g>
<g transform="translate(572.57,847.60) scale(1,1.03)"><text font-size="44.0" letter-spacing="-3.1" fill="#000" stroke="#000"> 00</text><path d="M763,0 L583,0 L583,1147 Q518,1085 412,1023 Q306,961 222,930 L222,1104 Q373,1175 486,1276 Q599,1377 646,1472 L763,1472 Z" fill="rgb(0, 0, 0)" stroke="rgb(0, 0, 0)" stroke-width="0.35" vector-effect="non-scaling-stroke" transform="translate(0.00,0.00) scale(0.02148,-0.02086)"></path></g>
<g transform="translate(717.13,847.60) scale(1,1.03)"><text font-size="44.0" letter-spacing="-3.1" fill="#000" stroke="#000"> 000</text><path d="M763,0 L583,0 L583,1147 Q518,1085 412,1023 Q306,961 222,930 L222,1104 Q373,1175 486,1276 Q599,1377 646,1472 L763,1472 Z" fill="rgb(0, 0, 0)" stroke="rgb(0, 0, 0)" stroke-width="0.35" vector-effect="non-scaling-stroke" transform="translate(0.00,0.00) scale(0.02148,-0.02086)"></path></g>
<g transform="translate(774.13,176.77) scale(1,1.03)"><text font-size="44.0" letter-spacing="-2.5" fill="#ff0000" stroke="#ff0000"> .5</text><path d="M763,0 L583,0 L583,1147 Q518,1085 412,1023 Q306,961 222,930 L222,1104 Q373,1175 486,1276 Q599,1377 646,1472 L763,1472 Z" fill="rgb(255, 0, 0)" stroke="rgb(255, 0, 0)" stroke-width="0.35" vector-effect="non-scaling-stroke" transform="translate(0.00,0.00) scale(0.02148,-0.02086)"></path></g>
<g transform="translate(774.13,328.47) scale(1,1.03)"><text font-size="44.0" letter-spacing="-2.5" fill="#ff0000" stroke="#ff0000"> .0</text><path d="M763,0 L583,0 L583,1147 Q518,1085 412,1023 Q306,961 222,930 L222,1104 Q373,1175 486,1276 Q599,1377 646,1472 L763,1472 Z" fill="rgb(255, 0, 0)" stroke="rgb(255, 0, 0)" stroke-width="0.35" vector-effect="non-scaling-stroke" transform="translate(0.00,0.00) scale(0.02148,-0.02086)"></path></g>
<g transform="translate(774.48,480.16) scale(1,1.03)"><text font-size="44.0" letter-spacing="-2.5" fill="#ff0000" stroke="#ff0000">0.5</text></g>
<g transform="translate(774.48,631.86) scale(1,1.03)"><text font-size="44.0" letter-spacing="-2.5" fill="#ff0000" stroke="#ff0000">0.0</text></g>
<g transform="translate(774.24,783.56) scale(1,1.03)"><text font-size="44.0" letter-spacing="-2.5" fill="#ff0000" stroke="#ff0000">-0.5</text></g>
<g transform="translate(309.01,893.3)"><text font-size="45.4" letter-spacing="-1.23" fill="#000" stroke="#000">Input VI/III ratio</text></g>
<g transform="translate(33.9,742) rotate(-90) scale(1.0000,1)"><text x="-3.81" y="0" font-size="46.5" letter-spacing="-1.85" fill="#000" stroke="#000">Equilibrium partial pressure (Torr)</text></g>
<g transform="translate(873.60,611.50) rotate(-90)"><text x="-1.45" y="0" fill="#ff0000" stroke="#ff0000"><tspan font-size="48.30" dy="0.00" font-style="italic">P</tspan></text></g>
<g transform="translate(889.50,590.40) rotate(-90) scale(0.86,1)"><text x="0.69" y="0" fill="#ff0000" stroke="#ff0000"><tspan font-size="27.50" dy="0.00" font-style="italic">β</tspan><tspan font-size="27.50" dy="0.00">-Ga</tspan><tspan font-size="22.00" dy="8.25">2</tspan><tspan font-size="27.50" dy="-8.25">O</tspan><tspan font-size="22.00" dy="8.25">3</tspan></text></g>
<g transform="translate(873.60,485.20) rotate(-90)"><text x="-2.90" y="0" fill="#ff0000" stroke="#ff0000"><tspan font-size="48.30" dy="0.00">( </tspan><tspan font-size="48.30" dy="0.00" dx="-5.00">0</tspan><tspan font-size="28.01" dy="-19.32" dx="-4.50">-2 </tspan><tspan font-size="48.30" dy="19.32" dx="-1.50">Torr)</tspan></text><path d="M763,0 L583,0 L583,1147 Q518,1085 412,1023 Q306,961 222,930 L222,1104 Q373,1175 486,1276 Q599,1377 646,1472 L763,1472 Z" fill="rgb(255, 0, 0)" stroke="rgb(255, 0, 0)" stroke-width="0.35" vector-effect="non-scaling-stroke" transform="translate(13.18,0.00) scale(0.02358,-0.02290)"></path></g>
<path d="M842.6,628.2 L871.7,613.2 L871.7,643.2 Z" fill="none" stroke="#ff0000" stroke-width="4.1" stroke-linejoin="miter"></path>
<g transform="translate(65.10,28.20) scale(0.966,1)"><text x="-2.94" y="0" fill="#000" stroke="#000"><tspan font-size="32.70" dy="0.00" font-style="italic">T</tspan><tspan font-size="32.70" dy="0.00"> = 900 </tspan><tspan font-size="20.27" dy="-16.19">o</tspan><tspan font-size="32.70" dy="16.19">C, </tspan><tspan font-size="32.70" dy="0.00" font-style="italic">P</tspan><tspan font-size="22.89" dy="8.01">tot</tspan><tspan font-size="32.70" dy="-8.01"> = 20 Torr, </tspan><tspan font-size="32.70" dy="0.00" dx="2.80" font-style="italic">P</tspan><tspan font-size="20.27" dy="-16.19" dx="5.60">o</tspan><tspan font-size="22.89" dy="24.20" dx="-18.30">TEG</tspan><tspan font-size="32.70" dy="-8.01" dx="0.90"> = 2.0</tspan><tspan font-size="32.70" dy="0.00" dx="23.90">  0</tspan><tspan font-size="20.27" dy="-9.81" dx="0.80">-2</tspan><tspan font-size="32.70" dy="9.81" dx="2.80"> Torr, </tspan><tspan font-size="32.70" dy="0.00" dx="0.80" font-style="italic">F</tspan><tspan font-size="20.27" dy="-16.19" dx="3.70">o</tspan><tspan font-size="32.70" dy="16.19" dx="3.00">= 0</tspan></text><path d="M763,0 L583,0 L583,1147 Q518,1085 412,1023 Q306,961 222,930 L222,1104 Q373,1175 486,1276 Q599,1377 646,1472 L763,1472 Z" fill="rgb(0, 0, 0)" stroke="rgb(0, 0, 0)" stroke-width="0.35" vector-effect="non-scaling-stroke" transform="translate(559.64,0.00) scale(0.01597,-0.01550)"></path></g>
<path d="M582.2,9.6 L596.2,23.6 M596.2,9.6 L582.2,23.6" stroke="#000" stroke-width="2" fill="none"></path>
<g transform="translate(168.00,128.00)"><text x="-2.34" y="0" fill="#000" stroke="#000"><tspan font-size="26.00" dy="0.00">IG</tspan></text></g>
<g transform="translate(162.50,200.10)"><text x="-1.30" y="0" fill="#78b43c" stroke="#78b43c"><tspan font-size="26.00" dy="0.00">Ga</tspan><tspan font-size="19.24" dy="6.50">2</tspan><tspan font-size="26.00" dy="-6.50">O</tspan></text></g>
<g transform="translate(175.20,292.60)"><text x="-1.30" y="0" fill="#5f5f5f" stroke="#5f5f5f"><tspan font-size="26.00" dy="0.00">Ga</tspan></text></g>
<g transform="translate(166.60,336.50)"><text x="-1.30" y="0" fill="#12a9c6" stroke="#12a9c6"><tspan font-size="26.00" dy="0.00">GaH</tspan></text></g>
<g transform="translate(166.60,392.30)"><text x="-1.30" y="0" fill="#0f87d8" stroke="#0f87d8"><tspan font-size="26.00" dy="0.00">GaH</tspan><tspan font-size="19.24" dy="6.50">2</tspan></text></g>
<g transform="translate(170.30,453.40)"><text x="-1.30" y="0" fill="#2f8e3c" stroke="#2f8e3c"><tspan font-size="26.00" dy="0.00">GaO</tspan></text></g>
<g transform="translate(166.60,512.70)"><text x="-1.30" y="0" fill="#0000ff" stroke="#0000ff"><tspan font-size="26.00" dy="0.00">GaH</tspan><tspan font-size="19.24" dy="6.50">3</tspan></text></g>
<g transform="translate(166.00,576.80)"><text x="-1.30" y="0" fill="#b3155a" stroke="#b3155a"><tspan font-size="26.00" dy="0.00">C</tspan><tspan font-size="19.24" dy="6.50">2</tspan><tspan font-size="26.00" dy="-6.50">H</tspan><tspan font-size="19.24" dy="6.50">2</tspan></text></g>
<g transform="translate(166.60,639.30)"><text x="-1.17" y="0" fill="#000" stroke="#000"><tspan font-size="26.00" dy="0.00">O</tspan><tspan font-size="19.24" dy="6.50">2</tspan></text></g>
<g transform="translate(166.60,698.00)"><text x="-1.30" y="0" fill="#ff0000" stroke="#ff0000"><tspan font-size="26.00" dy="0.00">C</tspan><tspan font-size="19.24" dy="6.50">2</tspan><tspan font-size="26.00" dy="-6.50">H</tspan><tspan font-size="19.24" dy="6.50">4</tspan></text></g>
<g transform="translate(166.60,787.00)"><text x="-1.30" y="0" fill="#e8205e" stroke="#e8205e"><tspan font-size="26.00" dy="0.00">C</tspan><tspan font-size="19.24" dy="6.50">2</tspan><tspan font-size="26.00" dy="-6.50">H</tspan><tspan font-size="19.24" dy="6.50">6</tspan></text></g>
<g transform="translate(708.20,143.50)"><text x="-1.17" y="0" fill="#000" stroke="#000"><tspan font-size="26.00" dy="0.00">O</tspan><tspan font-size="19.24" dy="4.42" dx="0.80">2</tspan></text></g>
<g transform="translate(700.00,189.50)"><text x="-2.08" y="0" fill="#9a1fb4" stroke="#9a1fb4"><tspan font-size="26.00" dy="0.00">H</tspan><tspan font-size="19.24" dy="6.50">2</tspan><tspan font-size="26.00" dy="-6.50">O</tspan></text></g>
<g transform="translate(699.50,218.90)"><text x="-1.30" y="0" fill="#ee6a10" stroke="#ee6a10"><tspan font-size="26.00" dy="0.00">C</tspan><tspan font-size="26.00" dy="0.00">O</tspan><tspan font-size="19.24" dy="6.50">2</tspan></text></g>
<g transform="translate(701.10,269.20)"><text x="-0.78" y="0" fill="#5d7a8a" stroke="#5d7a8a"><tspan font-size="26.00" dy="0.00" font-style="italic">P</tspan></text></g>
<g transform="translate(721.90,260.60)"><text x="-0.08" y="0" fill="#5d7a8a" stroke="#5d7a8a"><tspan font-size="16.20" dy="0.00">V</tspan></text></g>
<g transform="translate(718.00,274.80)"><text x="-0.83" y="0" fill="#5d7a8a" stroke="#5d7a8a"><tspan font-size="16.60" dy="0.00">Ga</tspan></text></g>
<g transform="translate(702.40,407.00)"><text x="-2.08" y="0" fill="#6d4535" stroke="#6d4535"><tspan font-size="26.00" dy="0.00">H</tspan><tspan font-size="19.24" dy="6.50">2</tspan></text></g>
<g transform="translate(701.60,435.70)"><text x="-1.30" y="0" fill="#f5a524" stroke="#f5a524"><tspan font-size="26.00" dy="0.00">CO</tspan></text></g>
<g transform="translate(683.70,586.00)"><text x="-1.30" y="0" fill="#2f8e3c" stroke="#2f8e3c"><tspan font-size="26.00" dy="0.00">GaO</tspan></text></g>
<g transform="translate(658.70,493.00) rotate(6)"><text x="-1.30" y="0" fill="#00695a" stroke="#00695a"><tspan font-size="26.00" dy="0.00">Ga(OH)</tspan></text></g>
<g transform="translate(701.50,647.20) rotate(10)"><text x="-1.30" y="0" fill="#5f5f5f" stroke="#5f5f5f"><tspan font-size="26.00" dy="0.00">Ga</tspan></text></g>
<g transform="translate(674.50,731.00) rotate(10)"><text x="-1.30" y="0" fill="#78b43c" stroke="#78b43c"><tspan font-size="26.00" dy="0.00">Ga</tspan><tspan font-size="19.24" dy="6.50">2</tspan><tspan font-size="26.00" dy="-6.50">O</tspan></text></g>
<g transform="translate(601.50,776.50) rotate(12)"><text x="-1.30" y="0" fill="#12a9c6" stroke="#12a9c6"><tspan font-size="26.00" dy="0.00">GaH</tspan></text></g>
<path d="M687.6,151.6 C683.6,147.29999999999998 673.4,149.6 673.4,162.8 C673.4,176.0 683.6,178.3 687.6,174.0" fill="none" stroke="#000" stroke-width="2.7"></path>
<path d="M687.6,359.5 C683.6,355.2 673.4,357.5 673.4,371.4 C673.4,385.3 683.6,387.6 687.6,383.3" fill="none" stroke="#000" stroke-width="2.7"></path>
</svg>
</body></html>
